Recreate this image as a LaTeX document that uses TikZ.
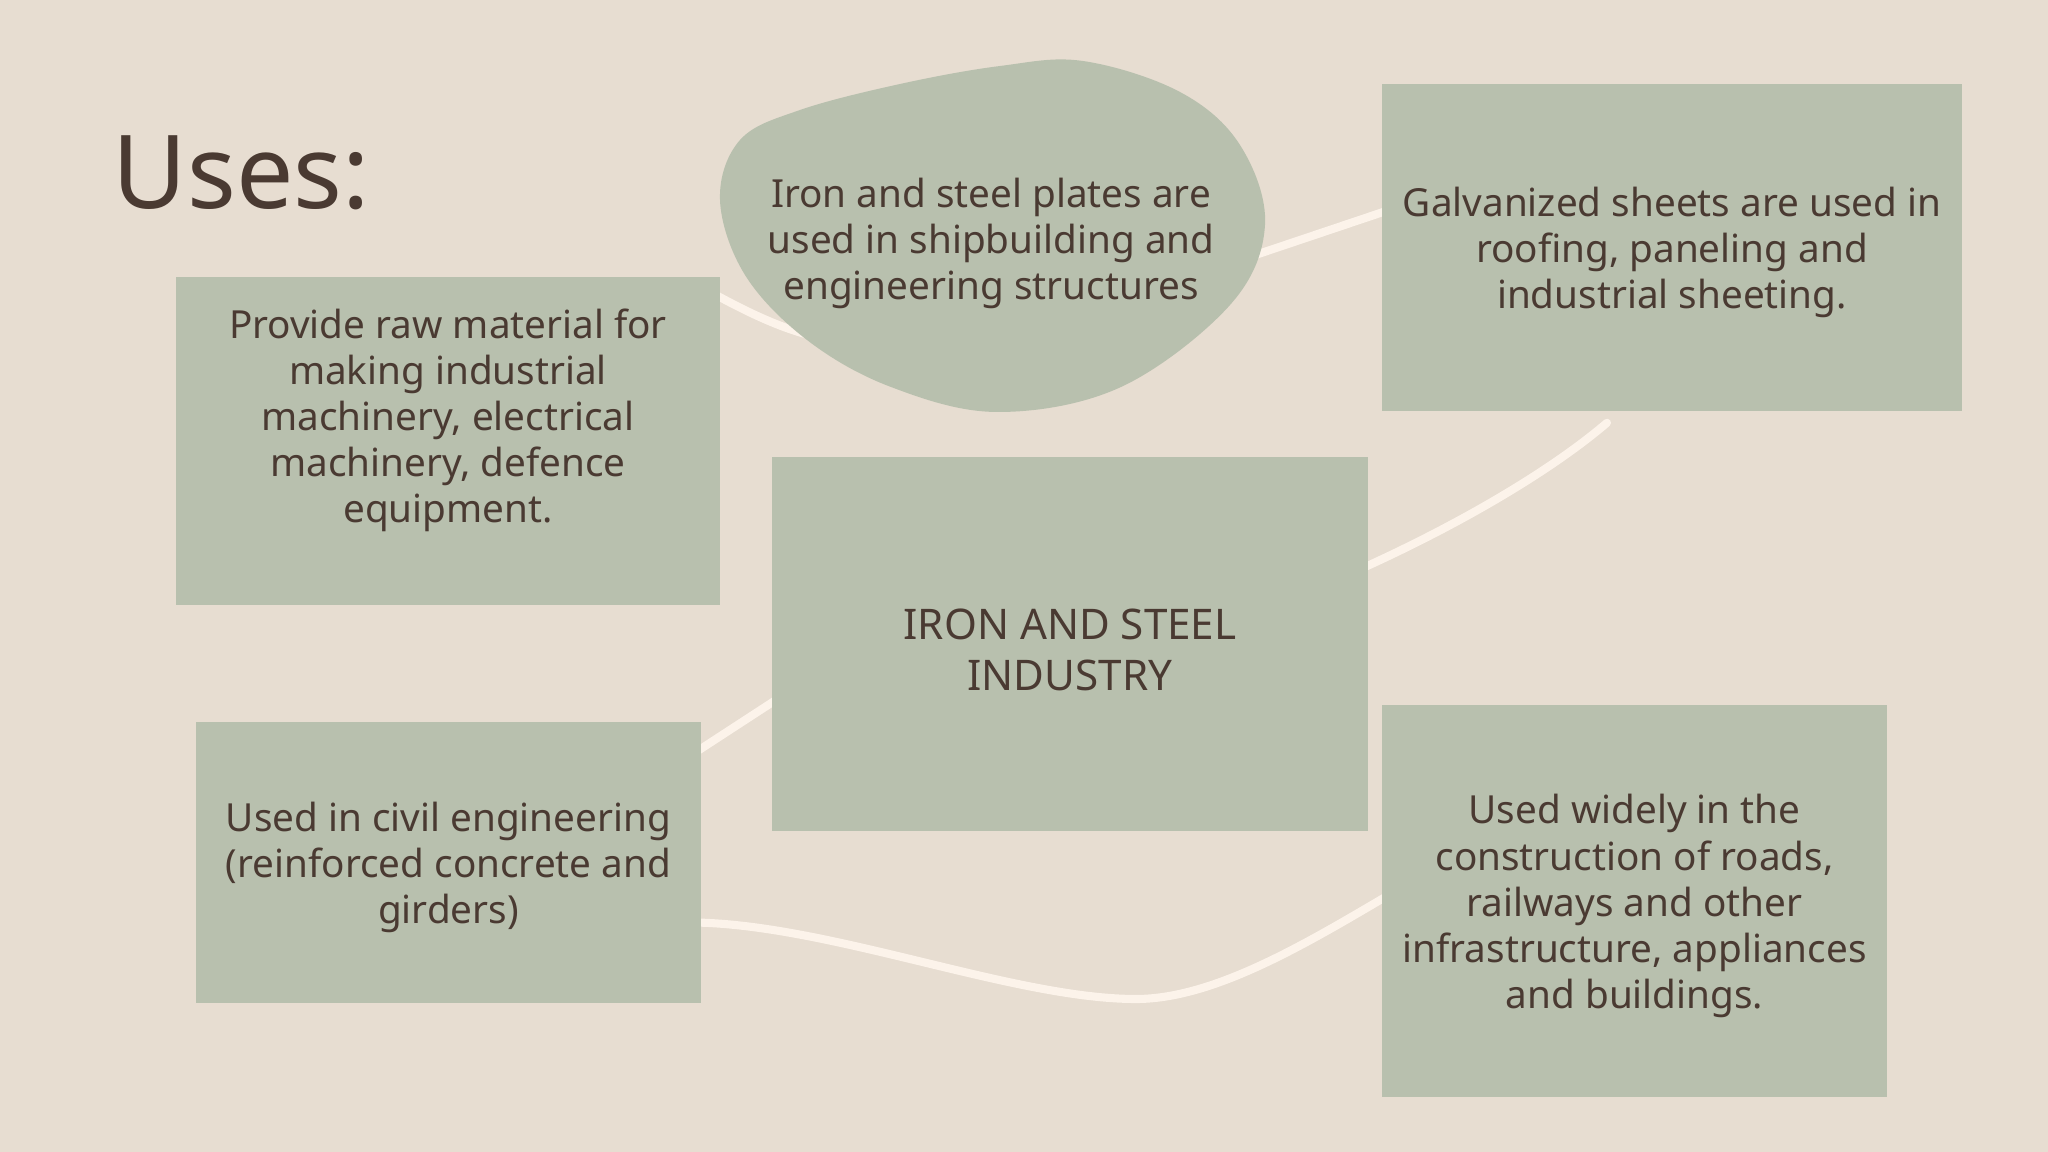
\documentclass[tikz,border=0pt]{standalone}
\usepackage{fontspec}
\setmainfont{Noto Sans}
\usetikzlibrary{positioning, calc}
\pgfdeclarelayer{background}
\pgfsetlayers{background,main}
\definecolor{paper}{HTML}{E7DDD1}
\definecolor{sage}{HTML}{B8C0AE}
\definecolor{ink}{HTML}{4A3A32}
\definecolor{cream}{HTML}{FCF3EA}
\newcommand{\padtop}{\rule{0pt}{1.02em}}

\begin{document}
\begin{tikzpicture}[x=0.01cm, y=-0.01cm]
\tikzset{
    usebox/.style={
        fill=sage,
        text=ink,
        align=center,
        inner sep=0pt,
        font=\fontsize{11pt}{13.1pt}\selectfont,
    },
    link/.style={
        draw=cream,
        line width=2.3pt,
        line cap=round,
    },
}
    \useasboundingbox (0,0) rectangle (2048,1152);

    \node[anchor=base west, inner sep=0pt, text=ink, font=\fontsize{29pt}{35pt}\selectfont] (title) at (112,209) {Uses:};

    % boxes
    \node[usebox, minimum width=5.44cm, minimum height=3.28cm] (raw) at (448,441)
        {\padtop Provide raw material for\\making industrial\\machinery, electrical\\machinery, defence\\equipment.\\ \strut};
    \node[usebox, minimum width=5.80cm, minimum height=3.27cm] (galv) at (1672,247.5)
        {\padtop Galvanized sheets are used in\\roofing, paneling and\\industrial sheeting.};
    \node[usebox, minimum width=5.96cm, minimum height=3.74cm, font=\fontsize{12pt}{14.5pt}\selectfont] (ind) at (1070,644)
        {\padtop IRON AND STEEL\\INDUSTRY};
    \node[usebox, minimum width=5.05cm, minimum height=2.81cm] (civil) at (448.5,862.5)
        {\padtop Used in civil engineering\\(reinforced concrete and\\girders)};
    \node[usebox, minimum width=5.05cm, minimum height=3.92cm] (roads) at (1634.5,901)
        {\padtop Used widely in the\\construction of roads,\\railways and other\\infrastructure, appliances\\and buildings.};

    % the blob
    \fill[sage] plot[smooth cycle, tension=0.6] coordinates {
        (1083,61) (1180,92) (1240,145) (1265,225) (1230,305) (1121,387)
        (998,412) (891,387) (807,340) (745,275) (720,200) (740,140) (800,110) (900,84) (1000,66)};
    \node[usebox, fill=none] (plates) at (991,238)
        {\padtop Iron and steel plates are\\used in shipbuilding and\\engineering structures};

    \coordinate (galvtip) at ($(galv.south)+(-65,11)$);

    % links behind everything
    \begin{pgfonlayer}{background}
        \fill[paper] (0,0) rectangle (2048,1152);
        \draw[link] ($(raw.north east)+(-10,16)$) .. controls (790,336) and (840,350) .. ($(plates)+(-90,100)$);
        \draw[link] ($(plates)+(190,42)$) -- ($(galv.west)+(60,-55)$);
        \draw[link] ($(ind.east)+(-38,-62)$) .. controls (1430,540) and (1540,480) .. (galvtip);
        \draw[link] ($(civil.north east)+(-20,40)$) -- ($(ind.west)+(40,33)$);
        \draw[link] ($(civil.east)+(-20,60)$) .. controls (820,920) and (1010,999) .. (1136,999)
            .. controls (1220,999) and (1320,935) .. ($(roads.west)+(28,-18)$);
    \end{pgfonlayer}
\end{tikzpicture}
\end{document}
